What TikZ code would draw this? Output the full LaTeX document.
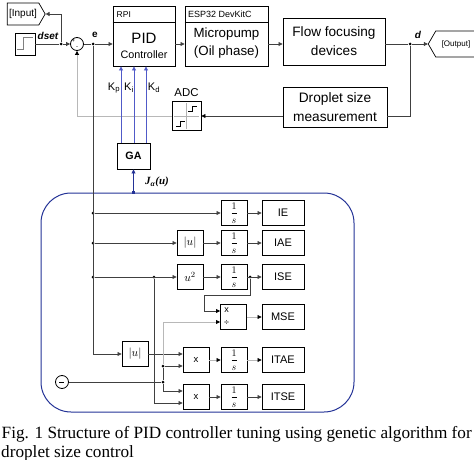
\documentclass[tikz,border=0pt]{standalone}
\usepackage{fontspec}
\usepackage{fix-cm}
\setmainfont{Liberation Sans}
\newfontfamily\capfont{Liberation Serif}
\usetikzlibrary{arrows.meta,shapes.symbols,calc}
\definecolor{panelblue}{RGB}{35,50,150}
\definecolor{kblue}{RGB}{80,90,200}
\newcommand{\myfs}[1]{\fontsize{#1}{#1}\selectfont}
\begin{document}
\begin{tikzpicture}[x=1pt,y=-1pt,
  blk/.style={draw=black,line width=0.9pt,fill=white,inner sep=0pt},
  sblk/.style={blk,minimum width=26pt,minimum height=25pt},
  res/.style={blk,minimum width=42pt,minimum height=25pt,font=\myfs{11}},
  conn/.style={draw=black!75,line width=0.7pt},
  lconn/.style={draw=black!28,line width=0.7pt},
  arr/.style={-{Triangle[length=4pt,width=4pt]}},
  darr/.style={-{Triangle[length=4pt,width=4pt,color=black]}},
  jdot/.style={circle,fill=black,inner sep=0pt,minimum size=3pt},
  lbl/.style={inner sep=0pt},
  intb/.style={sblk,font=\myfs{10}},
  mblk/.style={sblk,font=\myfs{11.5}}]
\useasboundingbox (0,0) rectangle (474,460);

% panel
\node[draw=panelblue,line width=1pt,rounded corners=30pt,minimum width=313pt,minimum height=219pt,inner sep=0pt] (panel) at (197.5,302.5) {};

% top row
\node[signal,signal to=east,signal pointer angle=120,draw=black,line width=0.7pt,minimum width=38pt,minimum height=22pt,inner sep=1pt,font=\myfs{10}] (inp) at (23,14) {[Input]};
\node[sblk,minimum width=20pt,minimum height=22pt] (stp) at (25,44) {};
\draw[black!50,line width=0.6pt] (17,49)--(23,49)--(23,37)--(33,37);
\node[lbl,font=\myfs{10}\bfseries\itshape] (dset) at (48,36) {dset};
\node[circle,draw=black,line width=0.8pt,minimum size=13pt,inner sep=0pt] (sum) at (77,44) {};
\node[lbl,font=\myfs{6}] (splus) at (73.5,41) {+};
\node[lbl,font=\myfs{6}] (sminus) at (77,47.5) {-};
\node[jdot] (dsj) at (61,44) {};
\node[jdot] (ej) at (93,44) {};
\node[lbl,font=\myfs{10}\bfseries] (elbl) at (95,35) {e};

\node[blk,minimum width=62pt,minimum height=60pt] (pid) at (144,36) {};
\draw[line width=0.9pt] ($(pid.north west)+(0,17)$) -- ($(pid.north east)+(0,17)$);
\node[lbl,anchor=west,font=\myfs{8.5}] (rpi) at (116.5,14.5) {RPI};
\node[lbl,font=\myfs{15}] (pidt) at (144,38.5) {PID};
\node[lbl,font=\myfs{10.8}] (ctrl) at (144,55) {Controller};

\node[blk,minimum width=83pt,minimum height=60pt] (esp) at (226.5,36) {};
\draw[line width=0.9pt] ($(esp.north west)+(0,17)$) -- ($(esp.north east)+(0,17)$);
\node[lbl,anchor=west,font=\myfs{9}] (espt) at (188,14.5) {ESP32 DevKitC};
\node[lbl,font=\myfs{13.3}] (mp1) at (226.5,34) {Micropump};
\node[lbl,font=\myfs{13.3}] (mp2) at (226.5,52) {(Oil phase)};

\node[blk,minimum width=102pt,minimum height=47pt,align=center,font=\fontsize{13.6}{19}\selectfont] (flow) at (334,41.5) {Flow focusing\\devices};
\node[jdot] (dj) at (410,44) {};
\node[lbl,font=\myfs{10}\bfseries\itshape] (dlbl) at (418,35) {d};
\node[signal,signal to=west,signal pointer angle=120,draw=black,line width=0.7pt,minimum width=48pt,minimum height=26pt,inner sep=1pt,font=\myfs{8}] (out) at (456,44) {[Output]};

\node[blk,minimum width=104pt,minimum height=40pt,align=center,font=\fontsize{13.7}{19}\selectfont] (drop) at (335,107) {Droplet size\\measurement};
\node[blk,minimum width=29pt,minimum height=29pt] (adc) at (186.5,116) {};
\draw[black!30,line width=0.6pt] (186.5,103)--(186.5,129) (174,116)--(199,116);
\draw[black,line width=0.6pt] (176,126)--(180,126)--(180,121)--(185,121);
\draw[black,line width=0.6pt] (188,111)--(192,111)--(192,106)--(197,106);
\node[lbl,font=\myfs{11.4}] (adct) at (186.5,93) {ADC};

\coordinate (fb) at (0,116);
\draw[conn] (stp) -- (dsj);
\draw[conn,arr] (dsj) -- (sum);
\draw[conn,arr] (dsj) |- (inp.east);
\draw[conn] (sum) -- (ej);
\draw[conn,arr] (ej) -- (pid.west |- ej);
\draw[conn,arr] (pid.east |- ej) -- (esp.west |- ej);
\draw[conn,arr] (esp.east |- ej) -- (flow.west |- ej);
\draw[conn] (flow.east |- ej) -- (dj);
\draw[conn,arr] (dj) -- (out.west);
\draw[conn] (dj) |- (drop.east |- fb);
\draw[conn,darr] (drop.west |- fb) -- (adc.east);
\draw[lconn,darr] (adc.west) -| (sum.south);

% GA and gains
\node[blk,minimum width=33pt,minimum height=26pt,font=\myfs{10.7}\bfseries] (ga) at (133.5,156) {GA};
\coordinate (kp) at (121,0);
\coordinate (ki) at (134,0);
\coordinate (kd) at (146,0);
\draw[kblue,line width=0.8pt,arr] (ga.north -| kp) -- (pid.south -| kp);
\draw[kblue,line width=0.8pt,arr] (ga.north -| ki) -- (pid.south -| ki);
\draw[kblue,line width=0.8pt,arr] (ga.north -| kd) -- (pid.south -| kd);
\node[lbl,font=\myfs{11}] (kpl) at (114,88) {K\textsubscript{p}};
\node[lbl,font=\myfs{11}] (kil) at (129,88) {K\textsubscript{i}};
\node[lbl,font=\myfs{11}] (kdl) at (154,88) {K\textsubscript{d}};
\node[rectangle,fill=panelblue,inner sep=0pt,minimum size=3pt] (jd) at (panel.north -| ga) {};
\draw[panelblue,line width=0.8pt,arr] (jd) -- (ga.south);
\node[lbl,font=\capfont\myfs{11}\bfseries\itshape] (jl) at (157,182) {J\textsubscript{α}(u)};

% inner rows
\node[jdot] (r1) at (93,213) {};
\node[jdot] (r2) at (93,243) {};
\node[jdot] (r3) at (93,277) {};
\node[jdot] (r3b) at (154,277) {};
\node[jdot] (j3) at (250,277) {};

\node[intb] (int1) at (234,213) {$\displaystyle\frac{1}{s}$};
\node[res] (ie) at (283,213) {IE};
\node[mblk] (abs1) at (190,243) {$|u|$};
\node[intb] (int2) at (234,243) {$\displaystyle\frac{1}{s}$};
\node[res] (iae) at (283,243) {IAE};
\node[mblk] (sq) at (190,277) {$u^2$};
\node[intb] (int3) at (234,277) {$\displaystyle\frac{1}{s}$};
\node[res] (ise) at (283,277) {ISE};
\node[sblk] (dv) at (233.5,316.5) {};
\node[lbl,font=\myfs{9}] (dvx) at (226.5,310) {x};
\node[lbl,font=\myfs{9}] (dvd) at (226.5,323) {÷};
\node[res] (mse) at (283,317) {MSE};
\node[mblk] (abs2) at (135,354) {$|u|$};
\node[sblk,font=\myfs{9.5}] (mul1) at (196,360) {x};
\node[intb] (int4) at (234,360) {$\displaystyle\frac{1}{s}$};
\node[res] (itae) at (283,360) {ITAE};
\node[sblk,font=\myfs{9.5}] (mul2) at (196,397) {x};
\node[intb] (int5) at (234,397) {$\displaystyle\frac{1}{s}$};
\node[res] (itse) at (283,397) {ITSE};
\node[circle,draw=black,line width=0.8pt,minimum size=13pt,inner sep=0pt] (clk) at (62,382) {};
\draw[line width=0.7pt] ($(clk.center)+(-3,0)$) -- ($(clk.center)+(2,0)$);
\node[jdot] (c1) at (163,382) {};
\node[jdot] (c2) at (163,366) {};
\coordinate (m1) at (204,295);
\coordinate (m2) at (163,322);

\draw[conn,arr] (ej) |- (abs2.west);
\draw[conn,arr] (r1) -- (int1);
\draw[conn,arr] (int1) -- (ie);
\draw[conn,arr] (r2) -- (abs1);
\draw[conn,arr] (abs1) -- (int2);
\draw[conn,arr] (int2) -- (iae);
\draw[conn,arr] (r3) -- (sq);
\draw[conn,arr] (sq) -- (int3);
\draw[conn,arr] (int3) -- (ise);
\draw[conn,darr] (j3) |- (m1) |- ($(dv.west)+(0,-5.5)$);
\draw[lconn,darr] (dv.east |- mse) -- (mse);
\draw[conn,arr] (abs2) -- (mul1.west |- abs2);
\draw[lconn,darr] (mul1) -- (int4);
\draw[lconn,darr] (int4) -- (itae);
\draw[conn,arr] (mul2) -- (int5);
\draw[conn,arr] (int5) -- (itse);
\draw[conn] (clk) -- (c1);
\draw[conn] (c1) -- (c2);
\draw[conn,arr] (c2) -- (mul1.west |- c2);
\draw[lconn,darr] (c2) -- (m2) -- ($(dv.west)+(0,5.5)$);
\draw[conn,arr] (c1) |- ($(mul2.west)+(0,-6)$);
\draw[conn,arr] (r3b) |- ($(mul2.west)+(0,6)$);

% caption
\node[lbl,anchor=base west,font=\capfont\fontsize{17.2}{20}\selectfont] (cap1) at (1.5,438) {Fig. 1 Structure of PID controller tuning using genetic algorithm for};
\node[lbl,anchor=base west,font=\capfont\fontsize{17.2}{20}\selectfont] (cap2) at (1,457) {droplet size control};
\end{tikzpicture}
\end{document}
